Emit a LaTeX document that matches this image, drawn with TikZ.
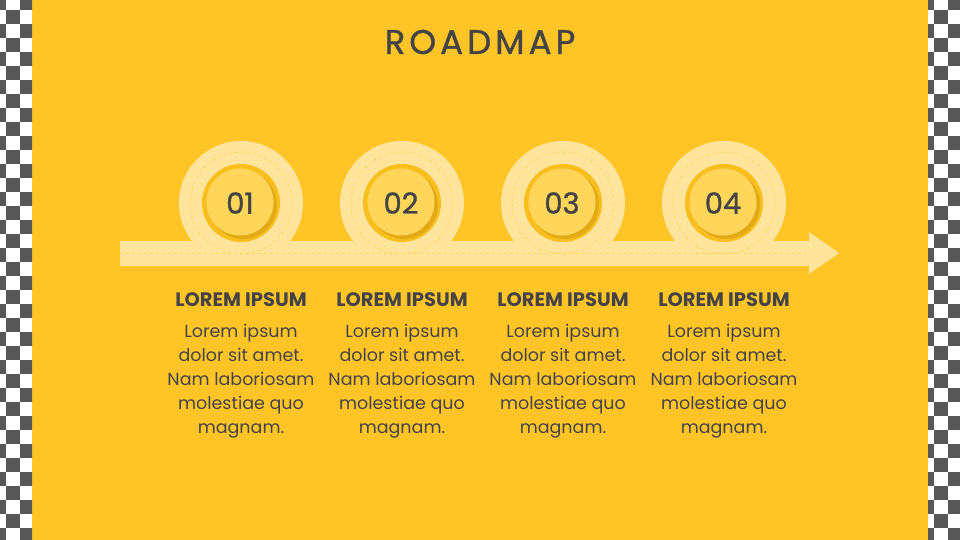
\documentclass[tikz,border=0pt]{standalone}
\usepackage{fontspec}
\setmainfont{Poppins}
\newfontfamily\grandtitre[LetterSpace=12,FakeBold=1.2]{Poppins}
\newfontfamily\chiffres[FakeBold=1.2]{Poppins}
\usetikzlibrary{calc}
\definecolor{fond}{HTML}{FFC425}
\definecolor{clair}{HTML}{FFE59B}
\definecolor{tirets}{HTML}{FFD45E}
\definecolor{bague}{HTML}{F8BE1C}
\definecolor{pastille}{HTML}{FFD65A}
\definecolor{ombre}{HTML}{E2AA14}
\definecolor{encre}{HTML}{444444}
\definecolor{damier}{HTML}{575757}

\tikzset{
  entete/.style={font=\grandtitre\fontsize{34}{38}\selectfont, text=encre},
  titre/.style={font=\fontsize{19.5}{22}\selectfont\bfseries, text=encre},
  corps/.style={font=\fontsize{17.5}{24}\selectfont, text=encre, align=center},
  numero/.style={font=\chiffres\fontsize{29}{32}\selectfont, text=encre},
}

\begin{document}
\begin{tikzpicture}[x=1pt,y=-1pt]
        \useasboundingbox (0,0) rectangle (960,540);
        % Fond jaune
        \fill[fond] (0,0) rectangle (960,540);

        % Damiers sur les bords gauche et droit
        \foreach \xa in {0,928} {
            \begin{scope}
                \clip (\xa,0) rectangle ++(32,540);
                \fill[white] (\xa,0) rectangle ++(32,540);
                \foreach \i in {0,...,3} {
                    \foreach \j in {0,...,39} {
                        \pgfmathtruncatemacro\pair{mod(\i+\j,2)}
                        \ifnum\pair=0
                            \fill[damier] (\xa-8+14*\i,-4+14*\j) rectangle ++(14,14);
                        \fi
                    }
                }
            \end{scope}
        }

        % Titre
        \node[entete] (roadmap) at (480,42) {ROADMAP};

        % Anneaux clairs sous les pastilles
        \foreach \k/\x in {1/241,2/402,3/563,4/724}
            \fill[clair] (\x,203) circle (62);

        % Flèche horizontale
        \fill[clair] (120,241) -- (809,241) -- (809,232) -- (839,253)
            -- (809,274) -- (809,266) -- (120,266) -- cycle;
        \draw[tirets, dashed, line width=0.8] (120,253) -- (806,253); % Axe pointillé

        % Pastilles numérotées et textes
        \foreach \k/\x in {1/241,2/402,3/563,4/724} {
            \draw[tirets, dashed, line width=0.8] (\x,203) circle (51);
            \fill[bague] (\x,203) circle (39);
            \fill[ombre] (\x+2,205) circle (34);
            \fill[pastille] (\x-1,202) circle (33.5);
            \node[numero] (num\k) at (\x-1,203) {0\k};
            \node[titre] (titre\k) at (\x,300) {LOREM IPSUM};
            \node[corps] (texte\k) at (\x,381) {Lorem ipsum\\dolor sit amet.\\Nam laboriosam\\molestiae quo\\magnam.};
        }
    \end{tikzpicture}
\end{document}
